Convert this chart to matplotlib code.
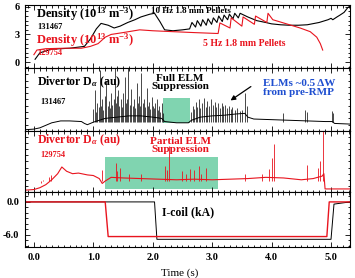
import numpy as np
import matplotlib
matplotlib.use("Agg")
import matplotlib.pyplot as plt
from matplotlib.ticker import MultipleLocator, AutoMinorLocator

plt.rcParams['font.family'] = ['Liberation Serif', 'DejaVu Serif']
plt.rcParams['font.weight'] = 'bold'
plt.rcParams['mathtext.fontset'] = 'custom'
plt.rcParams['mathtext.rm'] = 'Liberation Serif:bold'
plt.rcParams['mathtext.it'] = 'Liberation Serif:bold:italic'
plt.rcParams['mathtext.bf'] = 'Liberation Serif:bold'

RED = '#e8141e'
GREEN = '#80d4b0'
BLUE = '#1f4fd0'

# density, shot 131467 (10 Hz pellets)
dens_131_t = [0.02, 0.1, 0.3, 0.6, 0.85, 0.95, 1.05, 1.13, 1.25, 1.35, 1.45, 1.58, 1.7, 1.8,
              1.95, 2.03, 2.12, 2.2, 2.34, 2.5, 2.62,
              2.66, 2.72, 2.75, 2.81, 2.84, 2.9, 2.93, 2.99, 3.02, 3.08, 3.11, 3.17, 3.2,
              3.26, 3.29, 3.35, 3.38, 3.44, 3.47,
              3.6, 3.75, 3.9, 4.0, 4.15, 4.3, 4.45, 4.6, 4.8, 4.95, 5.0, 5.03, 5.1, 5.15,
              5.22, 5.28, 5.32]
dens_131_n = [0.3, 1.0, 1.4, 1.5, 1.7, 2.5, 3.6, 4.2, 4.0, 3.7, 3.9, 4.3, 4.6, 4.9,
              5.2, 5.3, 4.4, 3.5, 3.4, 3.5, 3.6,
              4.3, 3.8, 4.5, 3.9, 4.6, 4.0, 4.7, 4.1, 4.8, 4.3, 5.0, 4.4, 5.1,
              4.6, 5.2, 4.7, 5.3, 4.8, 5.3,
              4.9, 4.5, 4.3, 4.15, 4.05, 4.0, 4.0, 4.05, 4.3, 4.6, 4.75, 4.6, 4.9, 5.1,
              5.4, 5.9, 6.1]

# density, shot 129754 (5 Hz pellets)
dens_129_t = [0.0, 0.05, 0.2, 0.5, 0.8, 0.95, 1.08, 1.2, 1.3, 1.5, 1.78, 2.0, 2.34, 2.7, 3.1,
              3.13, 3.3, 3.32, 3.5, 3.52, 3.71, 3.73, 3.92, 3.94,
              4.02, 4.2, 4.48, 4.65, 4.76, 4.82, 4.86]
dens_129_n = [0.8, 1.3, 1.45, 1.5, 1.5, 1.7, 2.0, 2.7, 3.0, 3.2, 3.5, 3.4, 3.3, 3.2, 3.1,
              4.25, 3.7, 4.8, 3.9, 4.9, 4.1, 5.0, 4.3, 5.3,
              4.6, 4.25, 3.7, 3.3, 2.7, 2.0, 1.3]

# divertor D-alpha, shot 131467: baseline and ELM spikes
da_131_t = [-0.15, 0.0, 0.1, 0.2, 0.3, 0.45, 0.6, 0.8, 0.85, 0.9, 1.0, 1.2, 1.4, 1.6, 1.8,
            2.0, 2.15, 2.2, 2.4, 2.6, 2.65, 2.8, 3.0, 3.2, 3.4, 3.55, 3.6, 3.7, 4.0, 4.3,
            4.6, 4.9, 5.02, 5.06, 5.32]
da_131_v = [0.02, 0.03, 0.05, 0.09, 0.13, 0.16, 0.16, 0.15, 0.12, 0.1, 0.14, 0.2, 0.22,
            0.24, 0.24, 0.22, 0.2, 0.15, 0.13, 0.13, 0.17, 0.22, 0.24, 0.25, 0.27, 0.28,
            0.22, 0.19, 0.18, 0.17, 0.16, 0.15, 0.15, 0.12, 0.11]
elm_131_t = [1.00, 1.03, 1.05, 1.07, 1.09, 1.11, 1.13, 1.15, 1.17, 1.19, 1.22, 1.24, 1.26,
             1.28, 1.30, 1.32, 1.34, 1.36, 1.38, 1.40, 1.42, 1.44, 1.46, 1.48, 1.50, 1.53,
             1.55, 1.57, 1.59, 1.61, 1.64, 1.66, 1.68, 1.70, 1.73, 1.75, 1.77, 1.79, 1.81,
             1.83, 1.85, 1.87, 1.90, 1.92, 1.94, 1.96, 1.98, 2.00, 2.02, 2.04, 2.07, 2.09,
             2.11, 2.13, 2.15, 2.17,
             2.64, 2.67, 2.70, 2.72, 2.75, 2.78, 2.80, 2.83, 2.86, 2.89, 2.92, 2.95, 2.98,
             3.01, 3.04, 3.07, 3.10, 3.13, 3.16, 3.19, 3.22, 3.25, 3.28, 3.31, 3.34, 3.38,
             3.42, 3.46, 3.50, 3.55, 3.58,
             4.20, 4.57, 4.60, 5.01, 5.03]
elm_131_h = [0.35, 0.65, 0.30, 0.45, 0.38, 0.97, 0.40, 0.50, 0.33, 0.55, 0.80, 0.40, 0.48,
             0.36, 0.60, 0.42, 0.50, 1.00, 0.45, 0.55, 0.65, 0.40, 0.50, 0.38, 0.60, 0.86,
             0.45, 0.50, 1.00, 0.42, 0.66, 0.40, 0.50, 0.36, 0.76, 0.45, 0.55, 0.40, 0.92,
             0.45, 0.50, 0.38, 0.68, 0.40, 0.46, 0.35, 0.54, 0.40, 0.36, 0.45, 0.50, 0.34,
             0.40, 0.30, 0.44, 0.28,
             0.30, 0.40, 0.35, 0.46, 0.38, 0.50, 0.36, 0.44, 0.52, 0.38, 0.48, 0.40, 0.50,
             0.42, 0.46, 0.38, 0.44, 0.36, 0.45, 0.40, 0.42, 0.36, 0.40, 0.35, 0.38, 0.33,
             0.36, 0.32, 0.34, 0.60, 0.40,
             0.28, 0.33, 0.30, 0.32, 0.29]

# divertor D-alpha, shot 129754
da_129_t = [-0.15, 0.0, 0.1, 0.2, 0.3, 0.4, 0.47, 0.55, 0.65, 0.75, 0.9, 1.0, 1.1, 1.15,
            1.2, 1.3, 1.5, 1.8, 2.1, 2.4, 2.7, 3.0, 3.3, 3.6, 3.9, 4.2, 4.5, 4.7, 4.85,
            4.88, 4.9, 5.32]
da_129_v = [0.03, 0.04, 0.07, 0.12, 0.2, 0.3, 0.41, 0.34, 0.3, 0.31, 0.28, 0.27, 0.22,
            0.14, 0.18, 0.24, 0.23, 0.22, 0.21, 0.2, 0.21, 0.2, 0.21, 0.22, 0.24, 0.23,
            0.2, 0.22, 0.26, 0.3, 0.05, 0.05]
elm_129_t = [0.12, 0.15, 0.25, 0.28, 1.14, 1.38, 1.40, 1.45, 1.6, 1.8, 2.2, 2.24, 2.27,
             2.5, 2.56, 2.62, 2.7, 2.78, 2.82, 2.9, 3.55, 3.84, 3.95, 4.01, 4.04, 4.6,
             4.78, 4.82, 4.87]
elm_129_h = [0.15, 0.2, 0.24, 0.28, 0.36, 0.48, 0.35, 0.4, 0.3, 0.3, 0.42, 0.36, 0.75,
             0.35, 0.3, 0.38, 0.36, 0.42, 0.3, 0.4, 0.3, 0.3, 0.38, 0.55, 0.78, 0.44,
             0.4, 0.5, 1.0]

# I-coil current (kA)
icoil_129_t = [-0.15, 1.2, 1.25, 4.93, 4.97, 5.32]
icoil_129_v = [0.0, 0.0, -6.3, -6.3, 0.0, 0.0]
icoil_131_t = [-0.15, 2.03, 2.07, 5.0, 5.05, 5.32]
icoil_131_v = [0.0, 0.0, -6.8, -6.8, -0.4, 0.0]

xticks = [0, 1, 2, 3, 4, 5]
xticklabels = ['0.0', '1.0', '2.0', '3.0', '4.0', '5.0']

fig = plt.figure(figsize=(3.55, 2.78), dpi=100)
L, W = 0.0704, 0.9156
ax1 = fig.add_axes([L, 0.7554, W, 0.2266])
ax2 = fig.add_axes([L, 0.5288, W, 0.2266])
ax3 = fig.add_axes([L, 0.3094, W, 0.2194])
ax4 = fig.add_axes([L, 0.1115, W, 0.1978])

for ax in (ax1, ax2, ax3, ax4):
    ax.set_xlim(-0.15, 5.32)
    ax.xaxis.set_major_locator(MultipleLocator(1))
    ax.xaxis.set_minor_locator(MultipleLocator(0.1))
    ax.tick_params(which='both', direction='in', top=True, right=True, width=0.6)
    ax.tick_params(which='major', length=3.5, labelsize=7.5, pad=4)
    ax.tick_params(which='minor', length=1.8)
    ax.tick_params(axis='x', labelbottom=False)
    for s in ax.spines.values():
        s.set_linewidth(0.8)

# panel 1: density
ax1.plot(dens_131_t, dens_131_n, color='black', lw=0.8)
ax1.plot(dens_129_t, dens_129_n, color=RED, lw=0.8)
ax1.set_ylim(-0.65, 6.2)
ax1.set_yticks([0, 3, 6])
ax1.yaxis.set_minor_locator(MultipleLocator(0.5))
ax1.text(0.04, 5.2, r'Density (10$^{13}$ m$^{-3}$)', fontsize=9, va='center')
ax1.text(1.97, 5.55, '10 Hz 1.8 mm Pellets', fontsize=6.5, va='center')
ax1.text(0.06, 3.85, '131467', fontsize=6, va='center')
ax1.text(0.04, 2.4, r'Density (10$^{13}$ m$^{-3}$)', fontsize=9, va='center', color=RED)
ax1.text(0.06, 1.0, '129754', fontsize=6, va='center', color=RED)
ax1.text(2.85, 2.05, '5 Hz 1.8 mm Pellets', fontsize=7, va='center', color=RED)

# panel 2: D-alpha 131467
ax2.axvspan(2.17, 2.63, ymin=0.13, ymax=0.52, color=GREEN, lw=0, zorder=0)
ax2.plot(da_131_t, da_131_v, color='black', lw=0.7)
ax2.vlines(elm_131_t, 0.14, elm_131_h, color='black', lw=0.5)
ax2.set_ylim(0, 1)
ax2.set_yticks([])
ax2.yaxis.set_minor_locator(MultipleLocator(0.1))
ax2.text(0.06, 0.78, r'Divertor D$_{\alpha}$ (au)', fontsize=8.5, va='center')
ax2.text(0.1, 0.46, '131467', fontsize=6, va='center')
ax2.text(2.46, 0.77, 'Full ELM\nSuppression', fontsize=8, ha='center', va='center',
         linespacing=0.95)
ax2.text(4.46, 0.68, 'ELMs ~0.5 ΔW\nfrom pre-RMP', fontsize=8, ha='center', va='center',
         color=BLUE, linespacing=0.95)
ax2.annotate('', xy=(3.27, 0.46), xytext=(3.69, 0.73),
             arrowprops=dict(arrowstyle='-|>', color='black', lw=0.9,
                             mutation_scale=7))

# panel 3: D-alpha 129754
ax3.axvspan(1.2, 3.1, ymin=0.05, ymax=0.57, color=GREEN, lw=0, zorder=0)
ax3.plot(da_129_t, da_129_v, color=RED, lw=0.8)
ax3.vlines(elm_129_t, 0.18, elm_129_h, color=RED, lw=0.6)
ax3.set_ylim(0, 1)
ax3.set_yticks([])
ax3.yaxis.set_minor_locator(MultipleLocator(0.1))
ax3.text(0.06, 0.85, r'Divertor D$_{\alpha}$ (au)', fontsize=8.5, va='center', color=RED)
ax3.text(0.1, 0.61, '129754', fontsize=6, va='center', color=RED)
ax3.text(2.46, 0.76, 'Partial ELM\nSuppression', fontsize=8, ha='center', va='center',
         color=RED, linespacing=0.95)

# panel 4: I-coil
ax4.plot(icoil_131_t, icoil_131_v, color='black', lw=0.7)
ax4.plot(icoil_129_t, icoil_129_v, color=RED, lw=1.0)
ax4.set_ylim(-8.2, 1.8)
ax4.set_yticks([0, -6])
ax4.set_yticklabels(['0.0', '-6.0'])
ax4.yaxis.set_minor_locator(MultipleLocator(1))
ax4.text(2.15, -1.8, 'I-coil (kA)', fontsize=8.5, va='center')
ax4.tick_params(axis='x', labelbottom=True)
ax4.set_xticks(xticks)
ax4.set_xticklabels(xticklabels)
ax4.set_xlabel('Time (s)', fontsize=8)
ax4.xaxis.set_label_coords(0.475, -0.38)

fig.savefig('out.png', dpi=100)
